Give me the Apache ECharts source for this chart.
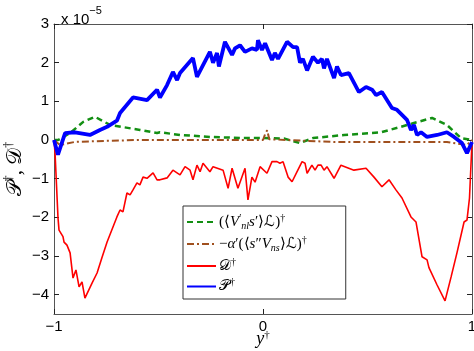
<!DOCTYPE html>
<html><head><meta charset="utf-8">
<script src="https://cdn.jsdelivr.net/npm/echarts@6/dist/echarts.min.js"></script>
<style>html,body{margin:0;padding:0;background:#fff}#c{width:474px;height:351px}</style>
</head><body><div id="c"></div>
<script>
// values in units of 1e-5
const pX = [-1.0,-0.981,-0.947,-0.90,-0.828,-0.78,-0.746,-0.699,-0.684,-0.622,-0.555,-0.507,-0.493,-0.459,-0.431,-0.411,-0.397,-0.335,-0.316,-0.254,-0.239,-0.22,-0.211,-0.182,-0.148,-0.134,-0.11,-0.086,-0.053,-0.029,-0.024,-0.005,0.01,0.043,0.057,0.072,0.115,0.144,0.163,0.177,0.191,0.211,0.239,0.263,0.282,0.292,0.306,0.34,0.354,0.373,0.411,0.459,0.493,0.522,0.541,0.569,0.617,0.641,0.665,0.689,0.708,0.722,0.737,0.756,0.785,0.833,0.88,0.914,0.952,0.976,1.0];
const pY = [0,-0.38,0.18,0.2,0.13,0.26,0.34,0.5,0.7,1.1,1.03,1.3,1.1,1.42,1.76,1.55,1.73,2.12,1.63,2.28,2.0,2.25,1.9,2.54,2.2,2.37,2.45,2.28,2.37,2.33,2.58,2.33,2.5,2.07,2.25,2.1,2.54,2.4,2.4,2.0,2.1,1.8,2.15,2.0,2.1,1.85,2.1,1.6,1.9,1.68,1.73,1.24,1.37,1.3,1.16,1.24,0.83,0.78,0.65,0.52,0.26,0.39,0.13,0.2,0.08,0.13,0.2,0.08,-0.08,-0.34,-0.05];
const dX = [-1.0,-0.995,-0.981,-0.976,-0.957,-0.952,-0.938,-0.923,-0.909,-0.895,-0.88,-0.866,-0.852,-0.818,-0.794,-0.77,-0.746,-0.699,-0.684,-0.67,-0.651,-0.636,-0.622,-0.603,-0.589,-0.574,-0.555,-0.526,-0.507,-0.493,-0.459,-0.431,-0.397,-0.373,-0.349,-0.335,-0.316,-0.301,-0.287,-0.254,-0.239,-0.191,-0.167,-0.148,-0.12,-0.086,-0.072,-0.053,-0.038,-0.014,0.019,0.043,0.067,0.081,0.096,0.12,0.139,0.163,0.187,0.201,0.211,0.234,0.249,0.263,0.278,0.292,0.306,0.34,0.373,0.435,0.493,0.531,0.569,0.603,0.636,0.665,0.708,0.732,0.761,0.785,0.794,0.833,0.871,0.9,0.928,0.962,0.976,0.988,1.0];
const dY = [0,-0.34,-2.0,-2.33,-2.5,-2.64,-2.72,-2.92,-3.57,-3.36,-3.8,-3.67,-4.09,-3.7,-3.44,-3.03,-2.64,-1.99,-1.81,-1.86,-1.37,-1.42,-1.29,-1.11,-1.16,-0.96,-0.99,-0.85,-1.03,-1.03,-0.98,-0.78,-0.9,-0.69,-0.78,-1.03,-0.65,-0.82,-0.6,-0.82,-0.69,-0.78,-1.25,-0.73,-1.25,-0.73,-1.55,-0.96,-1.09,-0.69,-0.86,-0.56,-0.56,-0.6,-0.56,-0.96,-1.08,-0.82,-0.56,-0.6,-0.86,-0.65,-0.78,-0.65,-0.65,-0.78,-0.69,-0.99,-0.65,-0.78,-0.73,-0.96,-1.21,-1.03,-1.29,-1.5,-1.99,-2.12,-3.02,-3.1,-3.3,-3.75,-4.16,-3.54,-2.92,-2.12,-2.07,-1.5,-0.05];
const gX = [-1.0,-0.98,-0.923,-0.86,-0.804,-0.732,-0.589,-0.507,-0.493,-0.397,-0.254,-0.096,0.0,0.1,0.177,0.239,0.244,0.388,0.565,0.66,0.722,0.809,0.88,0.947,1.0];
const gY = [0,0.0,0.18,0.47,0.6,0.39,0.26,0.18,0.2,0.13,0.08,0.05,0.05,0.04,-0.08,0.05,0.1,0.13,0.2,0.34,0.44,0.57,0.39,0.05,0];
const aX = [-1.0,-0.971,-0.9,-0.8,-0.6,-0.4,-0.2,0.0,0.01,0.02,0.03,0.2,0.34,0.565,0.88,0.976,1.0];
const aY = [0,-0.13,-0.05,-0.03,0.0,0.0,0.0,0.0,0.15,0.25,0.02,-0.02,-0.05,-0.05,-0.05,-0.13,0];
const yTicks = [-4,-3,-2,-1,0,1,2,3];
const xTicks = [-1,0,1];

const zip = (xs, ys) => xs.map((x, i) => [x, ys[i]]);
const fmt = v => v < 0 ? '\u2212' + Math.abs(v) : String(v);
const chart = echarts.init(document.getElementById('c'));
const axisCol = '#555';
const legendText = {
  g: '{n|(\u27e8}{i|V}{sup|\u2032}{sub|nl}{i|s}{n|\u2032\u27e9\u2112)}{sup|\u2020}',
  b: '{n|\u2212}{i|\u03b1}{n|\u2032(\u27e8}{i|s}{n|\u2033}{i|V}{sub|ns}{n|\u27e9\u2112)}{sup|\u2020}',
  r: '{n|\ud835\udc9f}{sup|\u2020}',
  p: '{n|\ud835\udcab}{sup|\u2020}'
};
chart.setOption({
  animation: false,
  grid: {left: 54, right: 2, top: 24, bottom: 37, outerBoundsMode: 'none', containLabel: false},
  title: {
    text: '{n|x 10}{s|\u22125}', left: 56, top: 0,
    textStyle: {fontWeight: 'normal', rich: {
      n: {fontFamily: 'Liberation Sans', fontWeight: 'normal', fontSize: 15, color: '#000', verticalAlign: 'bottom', lineHeight: 22},
      s: {fontFamily: 'Liberation Sans', fontWeight: 'normal', fontSize: 11, color: '#000', verticalAlign: 'top', lineHeight: 22}
    }}
  },
  legend: {
    orient: 'vertical', left: 183, top: 206,
    data: ['g', 'b', 'r', 'p'],
    borderColor: '#333', borderWidth: 1, backgroundColor: '#fff',
    padding: [7, 39, 5, 3], itemGap: 4, itemWidth: 29, itemHeight: 14,
    itemStyle: {opacity: 0},
    formatter: name => legendText[name],
    textStyle: {padding: [0, 0, 0, -2], rich: {
      n: {fontFamily: 'Liberation Serif', fontSize: 15, color: '#000', lineHeight: 18},
      i: {fontFamily: 'Liberation Serif', fontStyle: 'italic', fontSize: 15, color: '#000', lineHeight: 18},
      sub: {fontFamily: 'Liberation Serif', fontStyle: 'italic', fontSize: 10, color: '#000', verticalAlign: 'bottom', lineHeight: 18},
      sup: {fontFamily: 'Liberation Serif', fontSize: 10, color: '#000', verticalAlign: 'top', lineHeight: 18}
    }}
  },
  xAxis: [{
    type: 'value', min: -1, max: 1, interval: 1, position: 'bottom',
    axisLine: {show: true, onZero: false, lineStyle: {color: axisCol}},
    axisTick: {show: true, inside: true, length: 5, lineStyle: {color: '#222'}},
    axisLabel: {color: '#000', fontFamily: 'Liberation Sans', fontSize: 15, margin: 5, formatter: fmt},
    splitLine: {show: false},
    name: '{i|y}{s|\u2020}', nameLocation: 'middle', nameGap: 16, nameMoveOverlap: false,
    nameTextStyle: {rich: {
      i: {fontFamily: 'Liberation Serif', fontStyle: 'italic', fontSize: 18, color: '#000', lineHeight: 18},
      s: {fontFamily: 'Liberation Serif', fontSize: 11, color: '#000', verticalAlign: 'top', lineHeight: 18}
    }}
  }, {
    type: 'value', min: -1, max: 1, interval: 1, position: 'top',
    axisLine: {show: true, onZero: false, lineStyle: {color: axisCol}},
    axisTick: {show: true, inside: true, length: 5, lineStyle: {color: '#222'}},
    axisLabel: {show: false}, splitLine: {show: false}
  }],
  yAxis: [{
    type: 'value', min: -4.5, max: 3, position: 'left',
    axisLine: {show: true, onZero: false, lineStyle: {color: axisCol}},
    axisTick: {show: true, inside: true, length: 5, customValues: yTicks, lineStyle: {color: '#222'}},
    axisLabel: {color: '#000', fontFamily: 'Liberation Sans', fontSize: 15, margin: 5, customValues: yTicks, formatter: fmt},
    splitLine: {show: false},
    name: '{n|\ud835\udcab}{s|\u2020}{n|, \ud835\udc9f}{s|\u2020}', nameLocation: 'middle', nameGap: 27, nameRotate: 90, nameMoveOverlap: false,
    nameTextStyle: {rich: {
      n: {fontFamily: 'Liberation Serif', fontSize: 21, color: '#000', lineHeight: 24},
      s: {fontFamily: 'Liberation Serif', fontSize: 12, color: '#000', verticalAlign: 'top', lineHeight: 24}
    }}
  }, {
    type: 'value', min: -4.5, max: 3, position: 'right',
    axisLine: {show: true, onZero: false, lineStyle: {color: axisCol}},
    axisTick: {show: true, inside: true, length: 5, customValues: yTicks, lineStyle: {color: '#222'}},
    axisLabel: {show: false}, splitLine: {show: false}
  }],
  series: [
    {name: 'g', type: 'line', data: zip(gX, gY), symbol: 'none', color: '#138f13',
     lineStyle: {width: 2.5, type: [6, 4], color: '#138f13'}},
    {name: 'b', type: 'line', data: zip(aX, aY), symbol: 'none', color: '#a0501e',
     lineStyle: {width: 2, type: [7, 3, 2, 3], color: '#a0501e'}},
    {name: 'r', type: 'line', data: zip(dX, dY), symbol: 'none', color: '#ff0000',
     lineStyle: {width: 1.6, color: '#ff0000'}},
    {name: 'p', type: 'line', data: zip(pX, pY), symbol: 'none', color: '#0000ff',
     lineStyle: {width: 3.8, color: '#0000ff'}}
  ]
});
</script></body></html>
